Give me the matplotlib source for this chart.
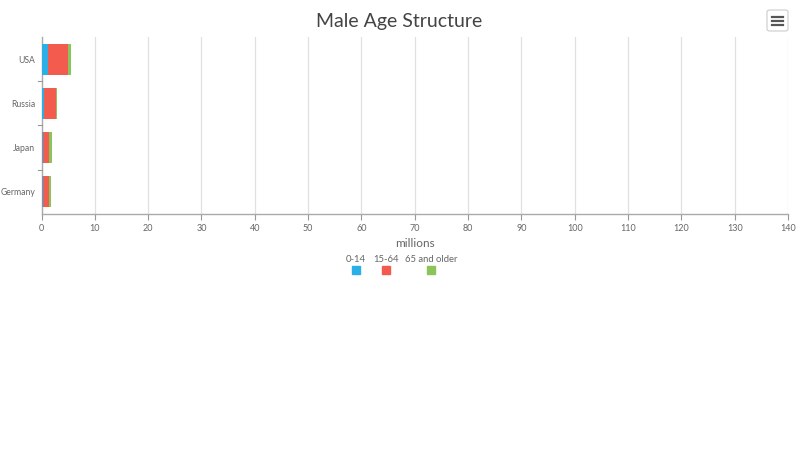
import matplotlib
matplotlib.use("Agg")
import matplotlib.pyplot as plt
from matplotlib.patches import FancyBboxPatch, Rectangle
import numpy as np

categories = ["USA", "Russia", "Japan", "Germany"]
series_names = ["0-14", "15-64", "65 and older"]
age_0_14 = [1.3, 0.55, 0.2, 0.2]
age_15_64 = [3.7, 2.2, 1.3, 1.2]
age_65_plus = [0.6, 0.1, 0.45, 0.3]
colors = ["#2ab0e6", "#f45b4f", "#8bc45a"]
x_ticks = list(range(0, 141, 10))

W, H = 800, 450
plt.rcParams['font.family'] = ['Lato', 'DejaVu Sans']
fig = plt.figure(figsize=(W / 100, H / 100), dpi=100)

left, right, top, bottom = 41.5, 788, 37, 214
ax = fig.add_axes([left / W, 1 - bottom / H, (right - left) / W, (bottom - top) / H])

y = np.arange(len(categories))
base = np.zeros(len(categories))
for name, vals, c in zip(series_names, [age_0_14, age_15_64, age_65_plus], colors):
    ax.barh(y, vals, left=base, height=0.7, color=c, label=name, zorder=3)
    base = base + np.array(vals)

ax.set_xlim(0, 140)
ax.set_ylim(len(categories) - 0.5, -0.5)
ax.set_xticks(x_ticks)
ax.set_xticklabels([str(t) for t in x_ticks], fontsize=6.5, color="#666666")
ax.set_yticks(y)
ax.set_yticklabels(categories, fontsize=6.2, color="#666666")
ax.tick_params(axis='y', length=0, pad=4.5)
ax.tick_params(axis='x', length=4, color="#999999", pad=3)
for b in np.arange(-0.5, len(categories), 1.0)[1:-1]:
    ax.plot([-0.6, 0], [b, b], color="#999999", lw=0.8, clip_on=False, zorder=4)
ax.grid(axis='x', color="#e0e0e0", lw=0.9, zorder=0)
for s in ["top", "right"]:
    ax.spines[s].set_visible(False)
ax.spines["left"].set_color("#aaaaaa")
ax.spines["bottom"].set_color("#aaaaaa")
ax.spines["left"].set_linewidth(1)
ax.spines["bottom"].set_linewidth(1)
ax.set_xlabel("millions", fontsize=8.5, color="#666666", labelpad=3.5)

fig.text(399 / W, 1 - 21 / H, "Male Age Structure", ha="center", va="center",
         fontsize=14, color="#444444", fontweight="normal")

# legend: labels above markers
leg_items = [(356, "0-14"), (386, "15-64"), (431, "65 and older")]
for (cx, lab), c in zip(leg_items, colors):
    fig.text(cx / W, 1 - 259 / H, lab, ha="center", va="center", fontsize=6.8, color="#666666")
    fig.patches.append(Rectangle(((cx - 4) / W, 1 - 274 / H), 8 / W, 8 / H,
                                 transform=fig.transFigure, color=c))

# menu button
fig.patches.append(FancyBboxPatch((767 / W, 1 - 31 / H), 21 / W, 21 / H,
                                  boxstyle="round,pad=0,rounding_size=0.004",
                                  transform=fig.transFigure, fc="white", ec="#cccccc", lw=0.8))
for yy in [16.5, 20.5, 24.5]:
    fig.add_artist(plt.Line2D([772 / W, 783 / W], [1 - yy / H, 1 - yy / H],
                              transform=fig.transFigure, color="#555555", lw=1.6))

fig.savefig("out.png", dpi=100)
